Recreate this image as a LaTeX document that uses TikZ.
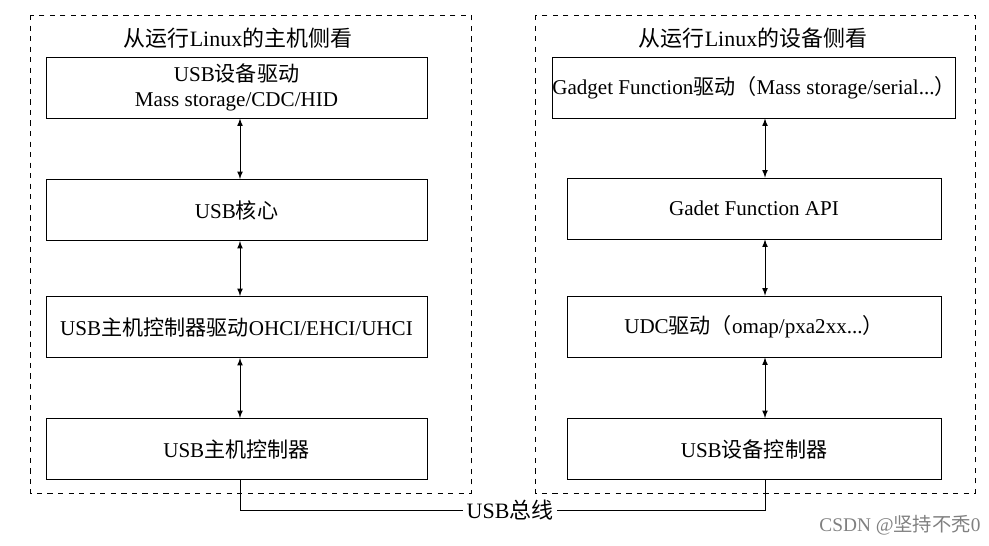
\documentclass[tikz,border=0pt]{standalone}
\usepackage{fontspec}
\setmainfont{Liberation Serif}
\newfontfamily\cjk{Noto Sans CJK SC}
\newcommand{\zh}[1]{{\cjk #1}}
\begin{document}
\begin{tikzpicture}[x=0.02cm,y=-0.02cm,
  blk/.style={draw,line width=0.5pt,minimum width=#1,minimum height=1.22cm,inner sep=0pt,font=\fontsize{12}{14}\selectfont,align=center},
  frame/.style={draw,dashed,line width=0.5pt},
  arr/.style={<->,>=latex,line width=0.5pt},
  lbl/.style={font=\fontsize{12.5}{14}\selectfont}]
\useasboundingbox (0,0) rectangle (989,545);
\draw[frame] (30,15) rectangle (471,493);
\draw[frame] (535,15) rectangle (975,493);
\node[lbl] (tl) at (238,38) {\zh{从运行}Linux\zh{的主机侧看}};
\node[lbl] (tr) at (753,38) {\zh{从运行}Linux\zh{的设备侧看}};
\node[blk=7.62cm] (l1) at (236.5,87.5) {USB\zh{设备驱动}\\Mass storage/CDC/HID};
\node[blk=7.62cm] (l2) at (236.5,210) {USB\zh{核心}};
\node[blk=7.62cm] (l3) at (236.5,327) {USB\zh{主机控制器驱动}OHCI/EHCI/UHCI};
\node[blk=7.62cm] (l4) at (236.5,449) {USB\zh{主机控制器}};
\node[blk=7.48cm] (r1) at (754,87.5) {Gadget Function\zh{驱动（}Mass storage/serial...\zh{）}};
\node[blk=7.48cm] (r2) at (754,208.5) {Gadet Function API};
\node[blk=7.48cm] (r3) at (754,326.5) {UDC\zh{驱动（}omap/pxa2xx...\zh{）}};
\node[blk=7.48cm] (r4) at (754,449) {USB\zh{设备控制器}};
\foreach \a/\b in {l1/l2,l2/l3,l3/l4}{\draw[arr] ([xshift=0.07cm]\a.south) -- ([xshift=0.07cm]\b.north);}
\foreach \a/\b in {r1/r2,r2/r3,r3/r4}{\draw[arr] ([xshift=0.22cm]\a.south) -- ([xshift=0.22cm]\b.north);}
\node[lbl,fill=white,inner sep=2pt] (bus) at (510,510) {USB\zh{总线}};
\draw[line width=0.5pt] ([xshift=0.07cm]l4.south) |- (bus.west);
\draw[line width=0.5pt] ([xshift=0.22cm]r4.south) |- (bus.east);
\node[text=gray,font=\fontsize{11}{13}\selectfont] (wm) at (900,525) {CSDN @\zh{坚持不秃}0};
\end{tikzpicture}
\end{document}
